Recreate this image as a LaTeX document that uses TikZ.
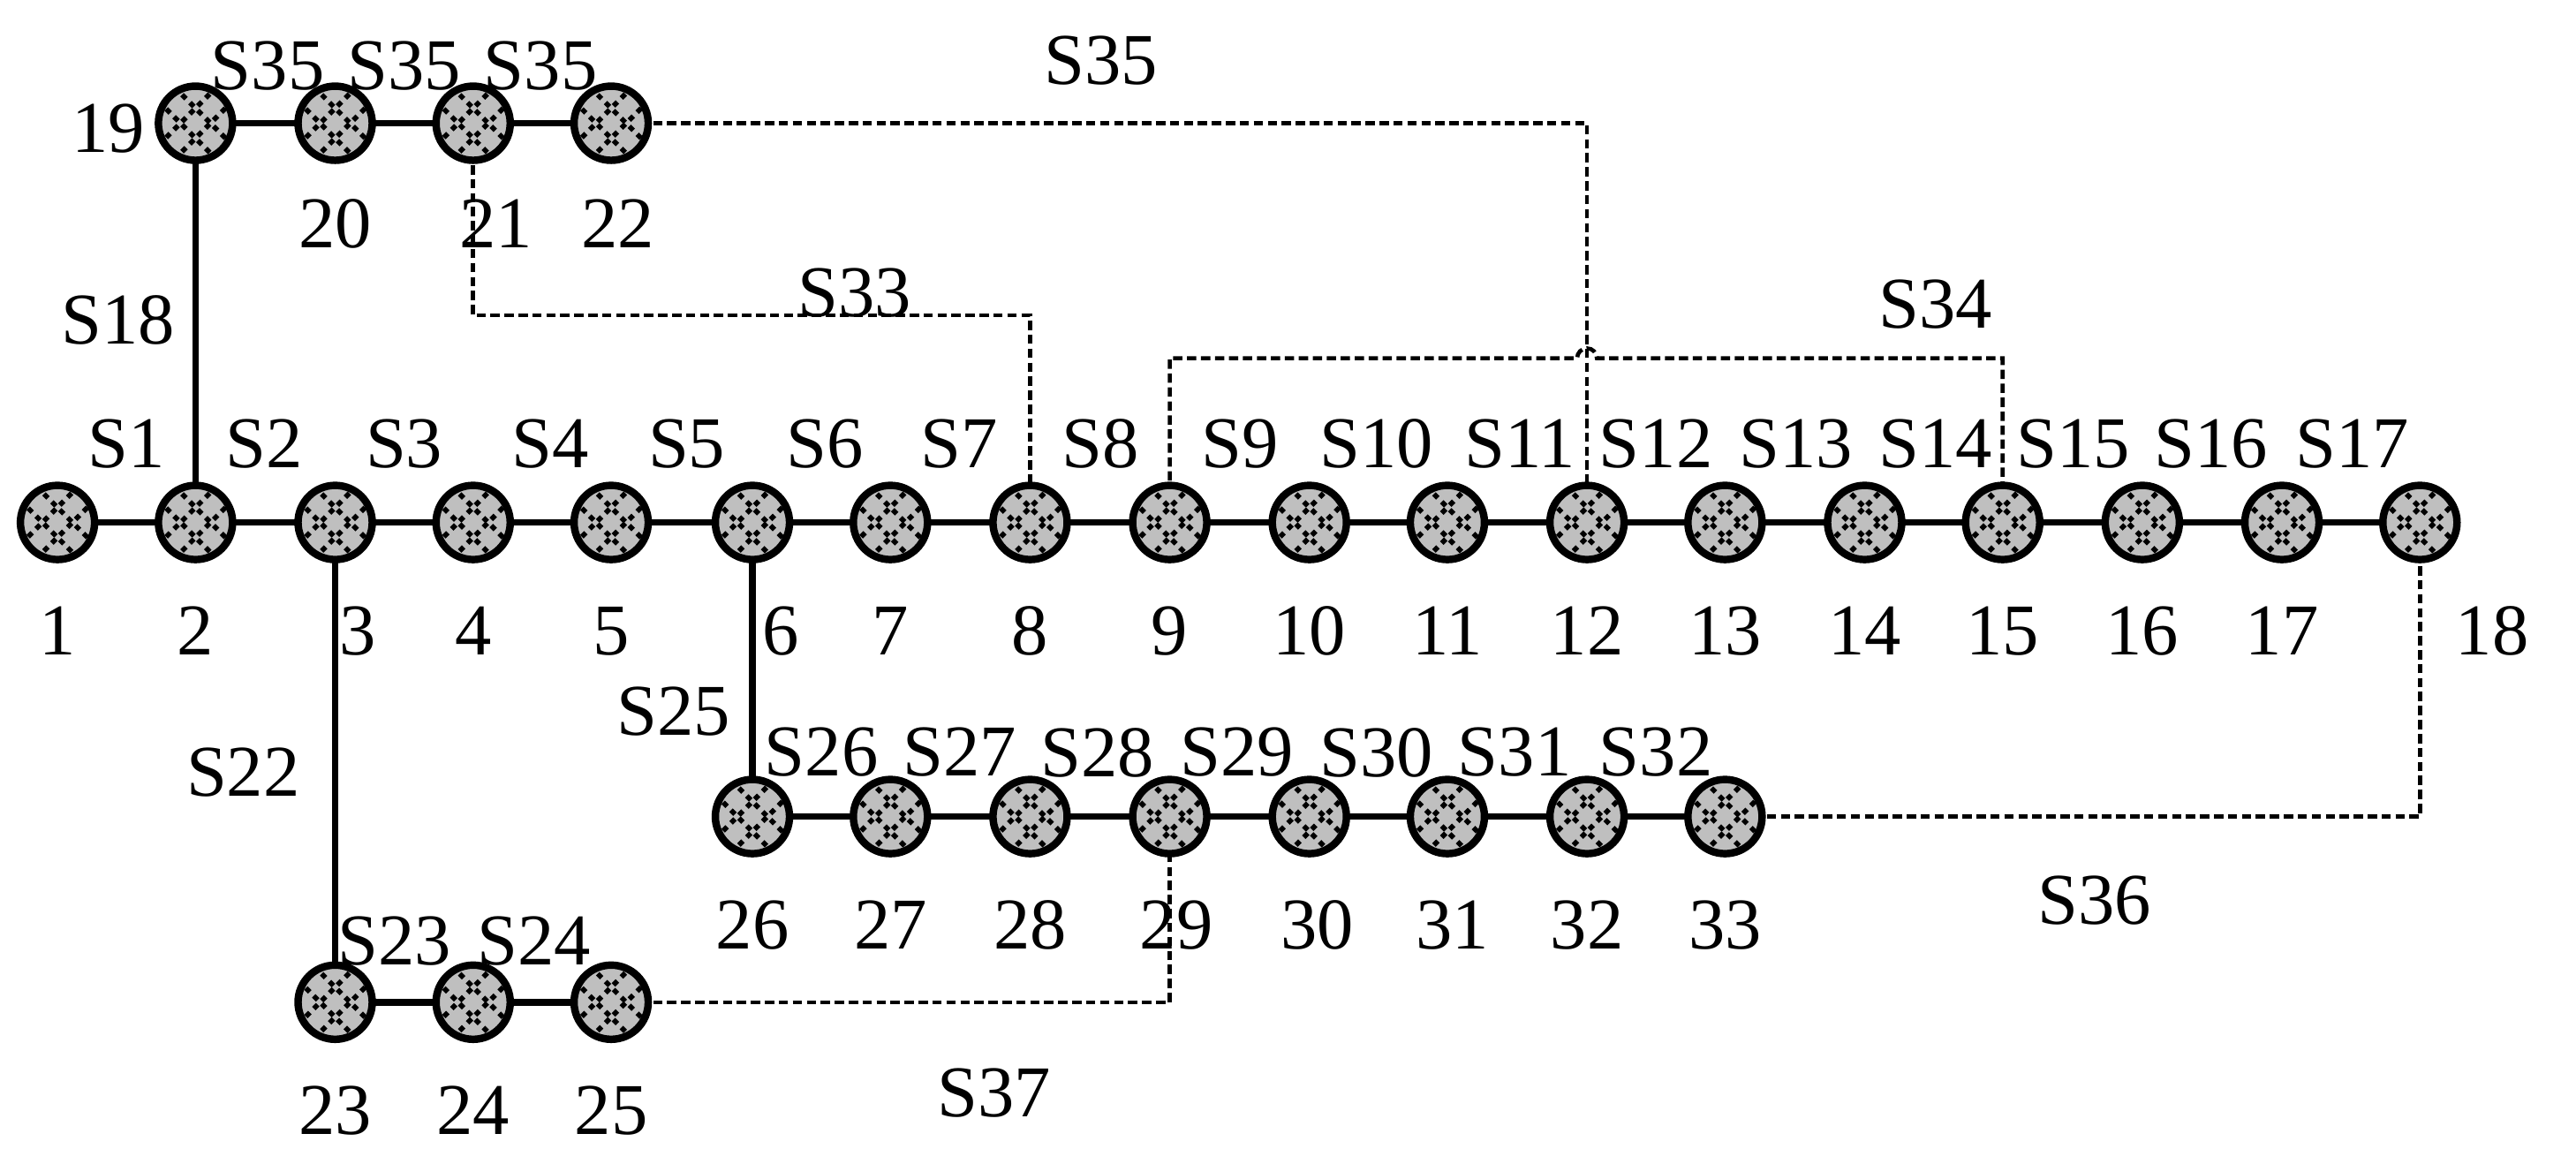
\documentclass[tikz,border=0pt]{standalone}
\usepackage{fontspec}
\setmainfont{Liberation Serif}
\begin{document}
\begin{tikzpicture}[x=0.0186cm,y=-0.0186cm,
 bus/.style={circle,draw,line width=2.4pt,fill=black!25,minimum size=0.84cm,inner sep=0pt,
  path picture={\begin{scope}[shift={(path picture bounding box.center)}]
   \foreach \k in {-0.17,0.17}{
    \draw[line width=1.6pt,dash pattern=on 1.8pt off 1.8pt] (-0.6cm,-0.6cm+\k cm)--(0.6cm,0.6cm+\k cm);
    \draw[line width=1.6pt,dash pattern=on 1.8pt off 1.8pt] (-0.6cm,0.6cm+\k cm)--(0.6cm,-0.6cm+\k cm);}
  \end{scope}}},
 ln/.style={line width=2.2pt},
 tie/.style={line width=1.3pt,dash pattern=on 3pt off 1.5pt},
 lb/.style={font=\fontsize{23.5}{27}\selectfont,inner sep=0pt}]
\useasboundingbox (0,0) rectangle (1568,708);
% main row
\foreach \i/\x in {1/35,2/119,3/204,4/288,5/372,6/458,7/542,8/627,9/712,10/797,11/881,12/966,13/1050,14/1135,15/1219,16/1304,17/1389,18/1473}
  \coordinate (p\i) at (\x,318);
\foreach \i/\x in {19/119,20/204,21/288,22/372} \coordinate (p\i) at (\x,75);
\foreach \i/\x in {26/458,27/542,28/627,29/712,30/797,31/881,32/966,33/1050} \coordinate (p\i) at (\x,497);
\foreach \i/\x in {23/204,24/288,25/372} \coordinate (p\i) at (\x,610);
% solid lines
\draw[ln] (p1)--(p18);
\draw[ln] (p19)--(p22);
\draw[ln] (p26)--(p33);
\draw[ln] (p23)--(p25);
\draw[ln] (p2)--(p19);
\draw[ln] (p3)--(p23);
\draw[ln] (p6)--(p26);
% dashed ties
\coordinate (a1) at (966,75);
\draw[tie] (p22)--(a1)--(p12);
\coordinate (b1) at (288,192); \coordinate (b2) at (627,192);
\draw[tie] (p21)--(b1)--(b2)--(p8);
\coordinate (c1) at (712,218); \coordinate (c2) at (960,218); \coordinate (c4) at (1219,218);
\draw[tie] (p9)--(c1)--(c2) arc[start angle=180,end angle=360,radius=6]--(c4)--(p15);
\coordinate (d1) at (1473,497);
\draw[tie] (p33)--(d1)--(p18);
\coordinate (e1) at (712,610);
\draw[tie] (p25)--(e1)--(p29);
% buses
\foreach \i in {1,...,33} \node[bus] (n\i) at (p\i) {};
% bus numbers
\foreach \i/\x in {1/35,2/119,3/218,4/288,5/372,6/475,7/542,8/627,9/712,10/797,11/881,12/966,13/1050,14/1135,15/1219,16/1304,17/1389,18/1517}
  \node[lb] (m\i) at (\x,384) {\i};
\node[lb] (m19) at (66,78) {19};
\node[lb] (m20) at (204,136) {20};
\node[lb] (m21) at (302,136) {21};
\node[lb] (m22) at (376,136) {22};
\foreach \i/\x in {26/458,27/542,28/627,29/716,30/802,31/884,32/966,33/1050}
  \node[lb] (m\i) at (\x,563) {\i};
\foreach \i/\x in {23/204,24/288,25/372} \node[lb] (m\i) at (\x,676) {\i};
% switch labels
\foreach \i/\x in {1/77,2/161,3/246,4/335,5/418,6/502,7/584,8/670,9/755,10/838,11/925,12/1008,13/1093,14/1178,15/1262,16/1346,17/1432}
  \node[lb] (s\i) at (\x,270) {S\i};
\node[lb] (t1) at (163,40) {S35};
\node[lb] (t2) at (246,40) {S35};
\node[lb] (t3) at (329,40) {S35};
\node[lb] (s18) at (72,195) {S18};
\node[lb] (s22) at (148,470) {S22};
\node[lb] (s25) at (410,433) {S25};
\node[lb] (s23) at (240,573) {S23};
\node[lb] (s24) at (325,573) {S24};
\foreach \i/\x in {26/500,27/584,28/668,29/753,30/838,31/922,32/1008}
  \node[lb] (s\i) at (\x,458) {S\i};
\node[lb] (s35) at (670,37) {S35};
\node[lb] (s33) at (520,178) {S33};
\node[lb] (s34) at (1178,185) {S34};
\node[lb] (s36) at (1275,548) {S36};
\node[lb] (s37) at (605,665) {S37};
\end{tikzpicture}
\end{document}
